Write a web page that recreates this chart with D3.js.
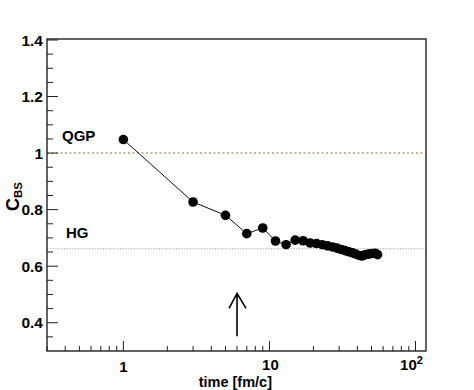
<!DOCTYPE html>
<html><head><meta charset="utf-8">
<script src="https://cdn.jsdelivr.net/npm/d3@7"></script>
<style>body{margin:0;background:#fff}svg{display:block}text{font-family:"Liberation Sans",Arial,sans-serif;font-weight:bold}</style>
</head><body><svg id="c" width="474" height="390"></svg>
<script>
const times = [1,3,5,7,9,11,13,15,17,19,21,23,25,27,29,31,33,35,37,39,41,43,45,47,49,51,53,55];
const cbs   = [1.048,0.827,0.780,0.715,0.735,0.689,0.676,0.692,0.690,0.682,0.680,0.676,0.672,0.668,0.664,0.659,0.655,0.651,0.647,0.643,0.638,0.636,0.640,0.642,0.644,0.645,0.646,0.641];
const refLevels = [1.0, 0.662];
const refLabels = ["QGP","HG"];
const yTicks = [0.4,0.6,0.8,1,1.2,1.4];
const xMajor = [1,10,100];
const xMajorLabels = ["1","10","10²"];
const arrowTime = [6];
const arrowRange = [0.352, 0.504];

const svg = d3.select("#c");
const L=47,R=426,T=40,B=351;
const x = d3.scaleLog().domain([0.3,118]).range([L,R]);
const y = d3.scaleLinear().domain([0.3,1.4]).range([B,T]);

// reference lines
const refStyles=[{c:"#c9b997",w:2,d:"2,2.5"},{c:"#b8b8b8",w:1.2,d:"1.2,1.6"}];
refLevels.forEach((v,i)=>{
  svg.append("line").attr("x1",L).attr("x2",R).attr("y1",y(v)).attr("y2",y(v))
    .attr("stroke",refStyles[i].c).attr("stroke-width",refStyles[i].w).attr("stroke-dasharray",refStyles[i].d);
});
svg.append("text").attr("x",62).attr("y",y(refLevels[0])-12).attr("font-size",15).text(refLabels[0]);
svg.append("text").attr("x",66).attr("y",y(refLevels[1])-11).attr("font-size",15).text(refLabels[1]);

// y axis ticks
const yMinor = d3.range(0.35,1.4001,0.05).map(v=>+v.toFixed(2));
yMinor.forEach(v=>{
  const major = yTicks.some(t=>Math.abs(t-v)<1e-6);
  svg.append("line").attr("x1",L).attr("x2",L+(major?11:6)).attr("y1",y(v)).attr("y2",y(v)).attr("stroke","#222").attr("stroke-width",1);
});
yTicks.forEach(v=>{
  svg.append("text").attr("x",43).attr("y",y(v)).attr("dy","0.36em").attr("text-anchor","end").attr("font-size",15.5).text(String(v));
});
// x axis ticks
const xMinor=[];
[0.1,1,10].forEach(d=>{for(let k=2;k<=9;k++){const v=k*d; if(v>0.3&&v<118) xMinor.push(v);}});
xMinor.forEach(v=>svg.append("line").attr("x1",x(v)).attr("x2",x(v)).attr("y1",B).attr("y2",B-5).attr("stroke","#222"));
xMajor.forEach((v,i)=>{
  svg.append("line").attr("x1",x(v)).attr("x2",x(v)).attr("y1",B).attr("y2",B-10).attr("stroke","#222");
  const t=svg.append("text").attr("y",i==0?372:370).attr("font-size",15);
  if(i<2){ t.attr("x",x(v)+(i==0?0:1)).attr("text-anchor","middle").text(xMajorLabels[i]); }
  else { t.attr("x",x(v)-4).attr("text-anchor","middle").text("10"); t.append("tspan").attr("dy",-6).attr("font-size",11).text("2"); }
});
svg.append("text").attr("x",272).attr("y",387).attr("text-anchor","end").attr("font-size",14.5).text("time [fm/c]");
// y title
const yt=svg.append("text").attr("transform","translate(19,182) rotate(-90)").attr("text-anchor","end").attr("font-size",18);
yt.append("tspan").text("C");
yt.append("tspan").attr("font-size",11.5).attr("dy",3).text("BS");

// frame
svg.append("rect").attr("x",L).attr("y",T-1).attr("width",R-L).attr("height",B-T+1).attr("fill","none").attr("stroke","#222").attr("stroke-width",1.4);

// data
const pts = times.map((t,i)=>[t,cbs[i]]);
svg.append("path").attr("d",d3.line().x(d=>x(d[0])).y(d=>y(d[1]))(pts)).attr("fill","none").attr("stroke","#111").attr("stroke-width",1);
svg.selectAll("circle.p").data(pts).join("circle").attr("cx",d=>x(d[0])).attr("cy",d=>y(d[1])).attr("r",4.8).attr("fill","#000");

// arrow
const ax=x(arrowTime[0]), ay0=y(arrowRange[0]), ay1=y(arrowRange[1]);
svg.append("path").attr("d",`M${ax},${ay0}L${ax},${ay1}M${ax-8},${ay1+15}L${ax},${ay1}L${ax+9},${ay1+15}`)
  .attr("fill","none").attr("stroke","#000").attr("stroke-width",1.6);
</script></body></html>
